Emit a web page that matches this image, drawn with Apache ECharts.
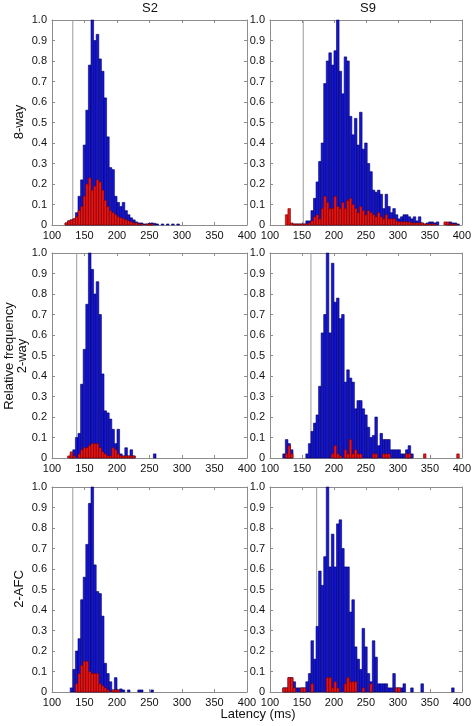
<!DOCTYPE html>
<html>
<head>
<meta charset="utf-8">
<script src="https://cdn.jsdelivr.net/npm/echarts@6/dist/echarts.min.js"></script>
<style>
html, body { margin: 0; padding: 0; background: #fff; }
#main { width: 474px; height: 726px; }
</style>
</head>
<body>
<div id="main"></div>
<script>
// axis ticks
var xTicks = [100, 150, 200, 250, 300, 350, 400];
var yTicks = [0, 0.1, 0.2, 0.3, 0.4, 0.5, 0.6, 0.7, 0.8, 0.9, 1.0];
var subjects = ['S2', 'S9'];
var conditions = ['8-way', '2-way', '2-AFC'];

// histogram bin width (ms)
var binWidth = 4;

// S2, 8-way
var s2_8wayStart = 120;
var s2_8wayBlue = [0.01, 0.02, 0.025, 0.03, 0.06, 0.14, 0.22, 0.39, 0.56, 0.78, 1.0, 0.90, 0.93, 0.81, 0.75, 0.62, 0.43, 0.28, 0.27, 0.14, 0.11, 0.09, 0.11, 0.07, 0.05, 0.035, 0.025, 0.015, 0.01, 0.01, 0.005, 0.005, 0.008, 0.01, 0.008, 0.005, 0, 0.005, 0, 0.005, 0, 0.005, 0, 0.005];
var s2_8wayRed = [0.01, 0.02, 0.025, 0.03, 0.04, 0.07, 0.09, 0.14, 0.20, 0.23, 0.17, 0.19, 0.22, 0.21, 0.17, 0.12, 0.09, 0.07, 0.06, 0.05, 0.04, 0.035, 0.03, 0.025, 0.02, 0.015, 0.01, 0.01, 0.005, 0.005, 0, 0.005, 0.005, 0.005];

// S9, 8-way
var s9_8wayStart = 124;
var s9_8wayBlue = [0, 0, 0, 0.005, 0.005, 0.005, 0.005, 0.005, 0.02, 0.02, 0.07, 0.13, 0.21, 0.31, 0.40, 0.69, 0.80, 0.84, 0.78, 0.85, 1.0, 0.75, 0.64, 0.82, 0.80, 0.53, 0.44, 0.52, 0.39, 0.55, 0.37, 0.40, 0.30, 0.26, 0.17, 0.16, 0.17, 0.15, 0.08, 0.15, 0.09, 0.06, 0.08, 0.05, 0.03, 0.04, 0.05, 0.05, 0.04, 0.03, 0.04, 0.02, 0.04, 0.01, 0.005, 0.01, 0.015, 0.015, 0.01, 0.015, 0, 0, 0, 0.01, 0.015, 0.01, 0.01, 0.005];
var s9_8wayRed = [0.05, 0.08, 0.01, 0.005, 0.005, 0.005, 0.005, 0.005, 0.005, 0.01, 0.02, 0.04, 0.05, 0.03, 0.08, 0.14, 0.11, 0.08, 0.08, 0.14, 0.09, 0.08, 0.11, 0.08, 0.12, 0.13, 0.10, 0.08, 0.06, 0.09, 0.07, 0.05, 0.07, 0.06, 0.05, 0.04, 0.06, 0.04, 0.03, 0.05, 0.03, 0.03, 0.03, 0.02, 0.015, 0.015, 0.015, 0.015, 0.015, 0.01, 0.01, 0.01, 0.01, 0.01, 0.005, 0.005, 0.005, 0.005, 0.005, 0, 0, 0, 0.015, 0.015, 0.005, 0.005, 0.005];

// S2, 2-way
var s2_2wayStart = 124;
var s2_2wayBlue = [0, 0.02, 0.04, 0.10, 0.12, 0.36, 0.53, 0.75, 1.0, 0.92, 0.80, 0.86, 0.70, 0.41, 0.23, 0.22, 0.19, 0.14, 0.07, 0.14, 0.02, 0.01, 0.05, 0.01, 0.04, 0.01, 0, 0, 0, 0, 0, 0, 0, 0.02];
var s2_2wayRed = [0.01, 0.03, 0.01, 0, 0.02, 0.04, 0.05, 0.05, 0.06, 0.07, 0.07, 0.07, 0.05, 0.03, 0.02, 0.01, 0.01, 0.05, 0.04, 0.02, 0.01, 0.01, 0.01, 0.01, 0.01, 0.01];

// S9, 2-way
var s9_2wayStart = 120;
var s9_2wayBlue = [0.02, 0.09, 0.07, 0.04, 0, 0, 0, 0, 0, 0.02, 0.07, 0.13, 0.17, 0.21, 0.35, 0.61, 0.70, 1.0, 0.61, 0.95, 0.76, 0.78, 0.68, 0.70, 0.37, 0.43, 0.39, 0.37, 0.24, 0.28, 0.28, 0.24, 0.21, 0.15, 0.10, 0.11, 0.20, 0.06, 0.12, 0.09, 0.09, 0.09, 0.04, 0.04, 0.04, 0.04, 0.02, 0.02, 0.04, 0.06, 0.02];
var s9_2wayRed = [0, 0.02, 0.06, 0.02, 0, 0, 0, 0, 0, 0, 0, 0, 0, 0, 0, 0, 0, 0, 0, 0.02, 0.06, 0.02, 0.01, 0, 0.04, 0.02, 0.09, 0.02, 0.04, 0.02, 0.02, 0, 0, 0, 0, 0.02, 0.02, 0, 0, 0.02, 0.02, 0.02, 0, 0, 0, 0, 0, 0, 0.02, 0.02, 0, 0, 0, 0, 0, 0.02, 0, 0, 0, 0, 0, 0, 0, 0, 0, 0, 0, 0, 0.02];

// S2, 2-AFC
var s2_afcStart = 128;
var s2_afcBlue = [0.02, 0.11, 0.20, 0.26, 0.45, 0.56, 0.72, 0.92, 1.0, 0.62, 0.49, 0.48, 0.37, 0.14, 0.09, 0.05, 0.01, 0.07, 0.01, 0.015, 0.01, 0, 0.01, 0, 0, 0, 0.01, 0.01, 0, 0, 0, 0.01];
var s2_afcRed = [0, 0, 0.04, 0.09, 0.13, 0.15, 0.15, 0.10, 0.09, 0.09, 0.09, 0.04, 0.03, 0.02, 0.01, 0, 0.01, 0.01, 0.01];

// S9, 2-AFC
var s9_afcStart = 120;
var s9_afcBlue = [0.02, 0.02, 0.07, 0.07, 0.05, 0.02, 0.02, 0.02, 0.02, 0.05, 0.09, 0.25, 0.16, 0.32, 0.59, 0.52, 0.66, 1.0, 0.61, 0.77, 0.61, 0.82, 0.84, 0.70, 0.61, 0.61, 0.39, 0.45, 0.22, 0.16, 0.11, 0.31, 0.22, 0.09, 0.05, 0.25, 0.17, 0.04, 0.04, 0.04, 0.04, 0.02, 0.02, 0.09, 0.02, 0.02, 0.02, 0.04, 0, 0, 0.02, 0, 0, 0, 0.04, 0, 0, 0, 0, 0, 0, 0, 0, 0, 0, 0, 0.02];
var s9_afcRed = [0.02, 0.02, 0.07, 0.07, 0.02, 0, 0, 0.02, 0.02, 0, 0, 0.04, 0, 0, 0, 0, 0, 0.07, 0.07, 0.02, 0.05, 0.02, 0, 0, 0.04, 0.07, 0.05, 0.05, 0.05, 0, 0, 0.02, 0, 0, 0.04, 0, 0, 0, 0, 0, 0, 0, 0, 0, 0.02, 0.02];

// gray onset line per panel (ms)
var onsetLines = [132, 152, 138, 164, 132, 173];

var panels = [
    { start: s2_8wayStart, blue: s2_8wayBlue, red: s2_8wayRed },
    { start: s9_8wayStart, blue: s9_8wayBlue, red: s9_8wayRed },
    { start: s2_2wayStart, blue: s2_2wayBlue, red: s2_2wayRed },
    { start: s9_2wayStart, blue: s9_2wayBlue, red: s9_2wayRed },
    { start: s2_afcStart, blue: s2_afcBlue, red: s2_afcRed },
    { start: s9_afcStart, blue: s9_afcBlue, red: s9_afcRed }
];

var gridLeft = [52, 270];
var gridTop = [20, 253, 487];
var gridW = 195, gridH = 205;
var axisColor = '#8c8c8c';
var font = 'Liberation Sans';

function toBins(start, arr) {
    var out = [];
    for (var i = 0; i < arr.length; i++) {
        if (arr[i] > 0) out.push([start + i * binWidth, arr[i]]);
    }
    return out;
}

function barRenderer(fill, stroke) {
    return function (params, api) {
        var x = api.value(0), h = api.value(1);
        var p0 = api.coord([x, h]);
        var p1 = api.coord([x + binWidth, 0]);
        return {
            type: 'rect',
            shape: { x: p0[0], y: p0[1], width: p1[0] - p0[0], height: p1[1] - p0[1] },
            style: { fill: fill, stroke: stroke, lineWidth: 0.6 }
        };
    };
}

var grid = [], xAxis = [], yAxis = [], series = [];
panels.forEach(function (p, i) {
    var row = Math.floor(i / 2), col = i % 2;
    grid.push({ left: gridLeft[col], top: gridTop[row], width: gridW, height: gridH, show: false });
    var xBase = {
        type: 'value', gridIndex: i, min: 100, max: 400, interval: 50,
        axisLine: { show: true, onZero: false, lineStyle: { color: axisColor, width: 1 } },
        axisTick: { show: true, inside: true, length: 3, lineStyle: { color: axisColor } },
        splitLine: { show: false }
    };
    var yBase = {
        type: 'value', gridIndex: i, min: 0, max: 1, interval: 0.1,
        axisLine: { show: true, onZero: false, lineStyle: { color: axisColor, width: 1 } },
        axisTick: { show: true, inside: true, length: 3, lineStyle: { color: axisColor } },
        splitLine: { show: false }
    };
    xAxis.push(Object.assign({}, xBase, {
        position: 'bottom',
        axisLabel: { fontSize: 11, color: '#111', margin: 5, fontFamily: font }
    }));
    xAxis.push(Object.assign({}, xBase, { position: 'top', axisLabel: { show: false } }));
    yAxis.push(Object.assign({}, yBase, {
        position: 'left',
        axisLabel: {
            fontSize: 11, color: '#111', margin: 5, fontFamily: font,
            formatter: function (v) { return v === 0 ? '0' : v.toFixed(1); }
        }
    }));
    yAxis.push(Object.assign({}, yBase, { position: 'right', axisLabel: { show: false } }));

    // onset line
    series.push({
        type: 'line', xAxisIndex: i * 2, yAxisIndex: i * 2, z: 1,
        symbol: 'none', silent: true,
        lineStyle: { color: '#9a9a9a', width: 1 },
        data: [[onsetLines[i], 0], [onsetLines[i], 1]]
    });
    series.push({
        type: 'custom', xAxisIndex: i * 2, yAxisIndex: i * 2, z: 2,
        renderItem: barRenderer('#1515d8', '#00005a'),
        data: toBins(p.start, p.blue)
    });
    series.push({
        type: 'custom', xAxisIndex: i * 2, yAxisIndex: i * 2, z: 3,
        renderItem: barRenderer('#e81414', '#7a0000'),
        data: toBins(p.start, p.red)
    });
});

var textStyle = { fill: '#111', font: '13px "Liberation Sans"', textAlign: 'center', textVerticalAlign: 'middle' };
var graphic = [
    { type: 'text', left: 142, top: 2, style: Object.assign({}, textStyle, { text: subjects[0] }) },
    { type: 'text', left: 360, top: 2, style: Object.assign({}, textStyle, { text: subjects[1] }) },
    { type: 'text', x: 19, y: 122, rotation: Math.PI / 2, style: Object.assign({}, textStyle, { text: conditions[0] }) },
    { type: 'text', x: 9, y: 356, rotation: Math.PI / 2, style: Object.assign({}, textStyle, { text: 'Relative frequency' }) },
    { type: 'text', x: 22, y: 356, rotation: Math.PI / 2, style: Object.assign({}, textStyle, { text: conditions[1] }) },
    { type: 'text', x: 19, y: 589, rotation: Math.PI / 2, style: Object.assign({}, textStyle, { text: conditions[2] }) },
    { type: 'text', x: 258, y: 714, style: Object.assign({}, textStyle, { text: 'Latency (ms)' }) }
];

var chart = echarts.init(document.getElementById('main'));
chart.setOption({
    animation: false,
    grid: grid,
    xAxis: xAxis,
    yAxis: yAxis,
    series: series,
    graphic: graphic
});
</script>
</body>
</html>
